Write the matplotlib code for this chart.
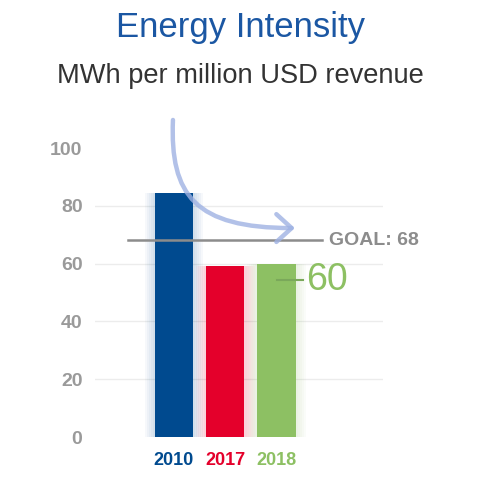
import matplotlib
matplotlib.use('Agg')
import matplotlib.pyplot as plt
from matplotlib.patches import FancyArrowPatch
from matplotlib.path import Path

plt.rcParams['font.family'] = ['Liberation Sans', 'DejaVu Sans']

# data
years = ['2010', '2017', '2018']
values = [84.5, 59.2, 60]
colors = ['#004a8f', '#e4002b', '#8dc063']
goal = 68
yticks = [0, 20, 40, 60, 80, 100]
title = 'Energy Intensity'
subtitle = 'MWh per million USD revenue'

fig = plt.figure(figsize=(4.8, 4.9), dpi=100)
ax = fig.add_axes([95/480, 1-437/490, 288/480, 289/490])

xs = list(range(len(years)))

# soft glow behind the bars
for k in range(6):
	ax.bar(xs, [v + 0.7*k for v in values], width=0.75 + 0.08*k, bottom=-0.7*k,
		color=colors, alpha=0.035, linewidth=0, zorder=1)
ax.bar(xs, values, width=0.75, color=colors, linewidth=0, zorder=3)

# gridlines
for t in yticks[1:-1]:
	ax.axhline(t, color='#ececec', lw=1, zorder=0)

ax.set_xlim(-1.541, 4.078)
ax.set_ylim(0, 100)
ax.set_yticks(yticks)
ax.set_yticklabels([str(t) for t in yticks], color='#9a9a9a', fontsize=14, fontweight='bold')
ax.tick_params(axis='y', length=0, pad=9)
ax.set_xticks([])
for s in ax.spines.values():
	s.set_visible(False)

for x, y, c in zip(xs, years, colors):
	ax.text(x, -8.3, y, color=c, fontsize=13, fontweight='bold', ha='center', va='center')

# goal line
ax.plot([-0.9, 2.89], [goal, goal], color='#8c8c8c', lw=1.8, zorder=4, clip_on=False)
ax.text(3.02, goal, 'GOAL: %d' % goal, color='#8c8c8c', fontsize=14, fontweight='bold',
	ha='left', va='center')

# label for 2018
ax.plot([2.01, 2.52], [54.3, 54.3], color='#7aa85a', lw=1.5, zorder=4)
ax.text(2.57, 54.3, '%d' % values[2], color=colors[2], fontsize=27, ha='left', va='center')

# curved arrow
verts = [(-0.02, 109.7), (-0.08, 83.7), (0.41, 72.3), (2.36, 72.3)]
codes = [Path.MOVETO, Path.CURVE4, Path.CURVE4, Path.CURVE4]
arr = FancyArrowPatch(path=Path(verts, codes), arrowstyle='->,head_length=0.55,head_width=0.5',
	mutation_scale=20, color='#9fb2e3', alpha=0.8, lw=3.2, zorder=5, clip_on=False)
ax.add_patch(arr)

fig.text(0.5, 1-37/490, title, color='#1b57a3', fontsize=25, ha='center', va='baseline')
fig.text(0.5, 1-83/490, subtitle, color='#333333', fontsize=19.6, ha='center', va='baseline')

plt.savefig('out.png', dpi=100)
